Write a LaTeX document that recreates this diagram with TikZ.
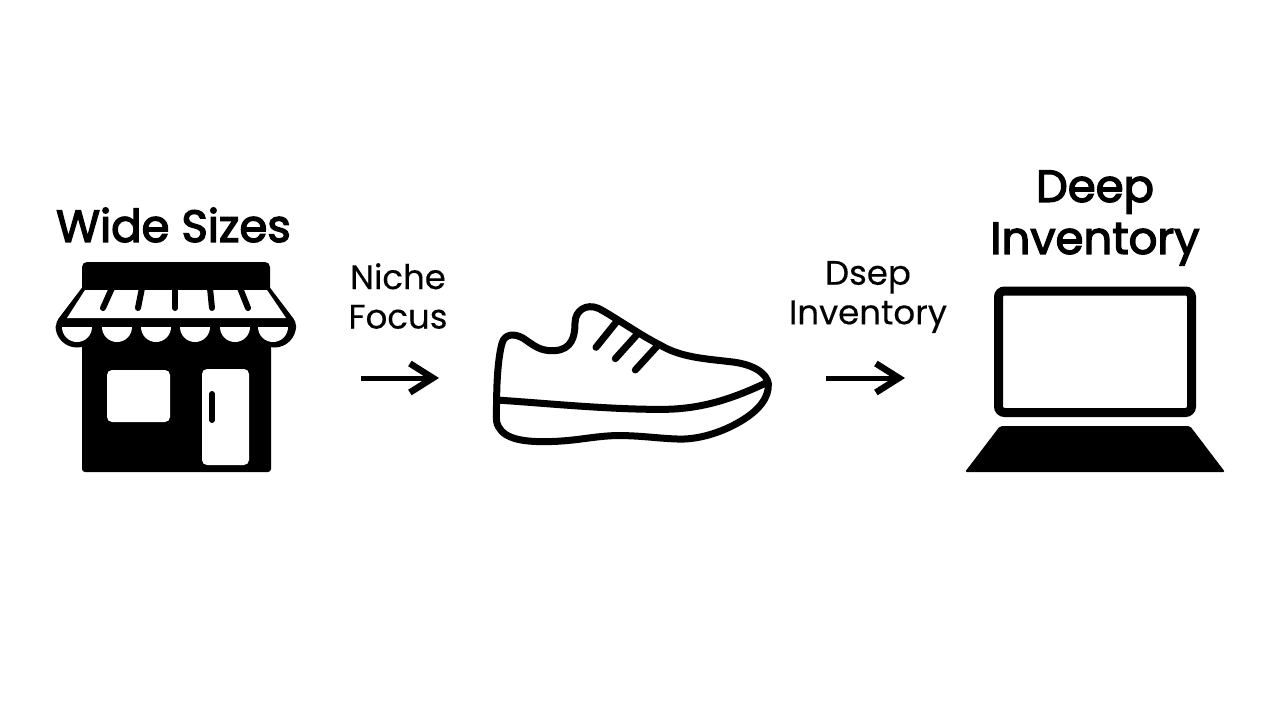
\documentclass[tikz,border=0pt]{standalone}
\usepackage{fontspec}
\setmainfont{Poppins}
\newfontfamily\heavyfont[FakeBold=3]{Poppins}
\newfontfamily\midfont[FakeBold=0.25]{Poppins}
\usetikzlibrary{arrows.meta}
\definecolor{ink}{HTML}{000000}
\tikzset{
  big/.style={font=\fontsize{45}{52}\selectfont\heavyfont,text=ink,align=center,inner sep=0pt},
  small/.style={font=\fontsize{34}{39.5}\selectfont\midfont,text=ink,align=center,inner sep=0pt},
  flow/.style={line width=5pt,draw=ink,-{Straight Barb[length=23pt,width=29pt,line width=6.5pt]}},
  outline/.style={line width=7pt,draw=ink,line cap=round,line join=round},
  blk/.style={fill=ink,draw=none},
  wht/.style={fill=white,draw=none}
}
\begin{document}
\begin{tikzpicture}[x=1pt,y=-1pt]
\useasboundingbox[fill=white] (0,0) rectangle (1280,720);
% store
\fill[blk,rounded corners=5pt] (82,262) rectangle (270,295);
\fill[blk,rounded corners=3pt] (82,320) rectangle (271,472);
\fill[blk,rounded corners=4pt] (84,285) -- (268,285) -- (296,322) -- (296,332) -- (56,332) -- (56,322) -- cycle;
\foreach \cx in {117,156,195,235}{\fill[blk] (\cx-20,325) arc[start angle=180,end angle=360,radius=20pt] -- cycle;}
\foreach \cx in {77,274.5}{\fill[blk] (\cx-21.5,326) arc[start angle=180,end angle=360,radius=21.5pt] -- cycle;}
\fill[wht] (85,290) -- (267,290) -- (286,318) -- (67,318) -- cycle;
\foreach \xa/\xb in {112/103,142/138,175/175,210/212,240/248}{\draw[line width=6pt,draw=ink,line cap=round] (\xa,288) -- (\xb,308);}
\foreach \cx in {77,117,156,195,235,273}{\fill[wht] (\cx-15,327) arc[start angle=180,end angle=360,radius=15pt] -- cycle;}
\fill[wht,rounded corners=5pt] (107,370) rectangle (170,422);
\fill[wht,rounded corners=5pt] (202,369) rectangle (249,465);
\draw[line width=6pt,draw=ink,line cap=round] (212,394) -- (212,420);
\node[big] (wide) at (173.5,225) {Wide Sizes};
\node[small] (niche) at (398,296) {Niche\\Focus};
\coordinate (a1s) at (361,378);
\coordinate (a1e) at (439,378);
\draw[flow] (a1s) -- (a1e);
% shoe
\begin{scope}[shift={(480,290)},x=0.3333pt,y=-0.3333pt]
\draw[outline] (50,330) .. controls (50,270) and (55,200) .. (66,160)
  .. controls (74,130) and (105,130) .. (130,145)
  .. controls (160,165) and (180,185) .. (225,182)
  .. controls (275,178) and (285,140) .. (285,100)
  .. controls (285,60) and (320,40) .. (355,55)
  .. controls (390,72) and (480,135) .. (540,165)
  .. controls (600,200) and (660,205) .. (750,215)
  .. controls (820,222) and (860,250) .. (865,280)
  .. controls (868,320) and (840,360) .. (780,395)
  .. controls (720,430) and (650,450) .. (590,447)
  .. controls (530,445) and (470,435) .. (400,437)
  .. controls (330,440) and (280,455) .. (190,455)
  .. controls (110,455) and (60,440) .. (50,395)
  .. controls (47,375) and (50,350) .. (50,330) -- cycle;
\draw[outline] (50,330) .. controls (200,340) and (400,360) .. (560,358)
  .. controls (680,355) and (770,320) .. (860,278);
\draw[outline] (410,95) -- (348,172);
\draw[outline] (470,135) -- (406,206);
\draw[outline] (530,170) -- (466,240);
\end{scope}
\node[small] (dsep) at (868,297) {Dsep\\Inventory};
\coordinate (a2s) at (826,378);
\coordinate (a2e) at (905,378);
\draw[flow] (a2s) -- (a2e);
\node[big] (deep) at (1095,218) {Deep\\Inventory};
% laptop
\draw[line width=9pt,draw=ink,rounded corners=6pt,fill=white] (998.5,291) rectangle (1191.5,412.5);
\fill[blk,rounded corners=2pt] (1000,426) -- (1190,426) -- (1225,472) -- (965,472) -- cycle;
\end{tikzpicture}
\end{document}
